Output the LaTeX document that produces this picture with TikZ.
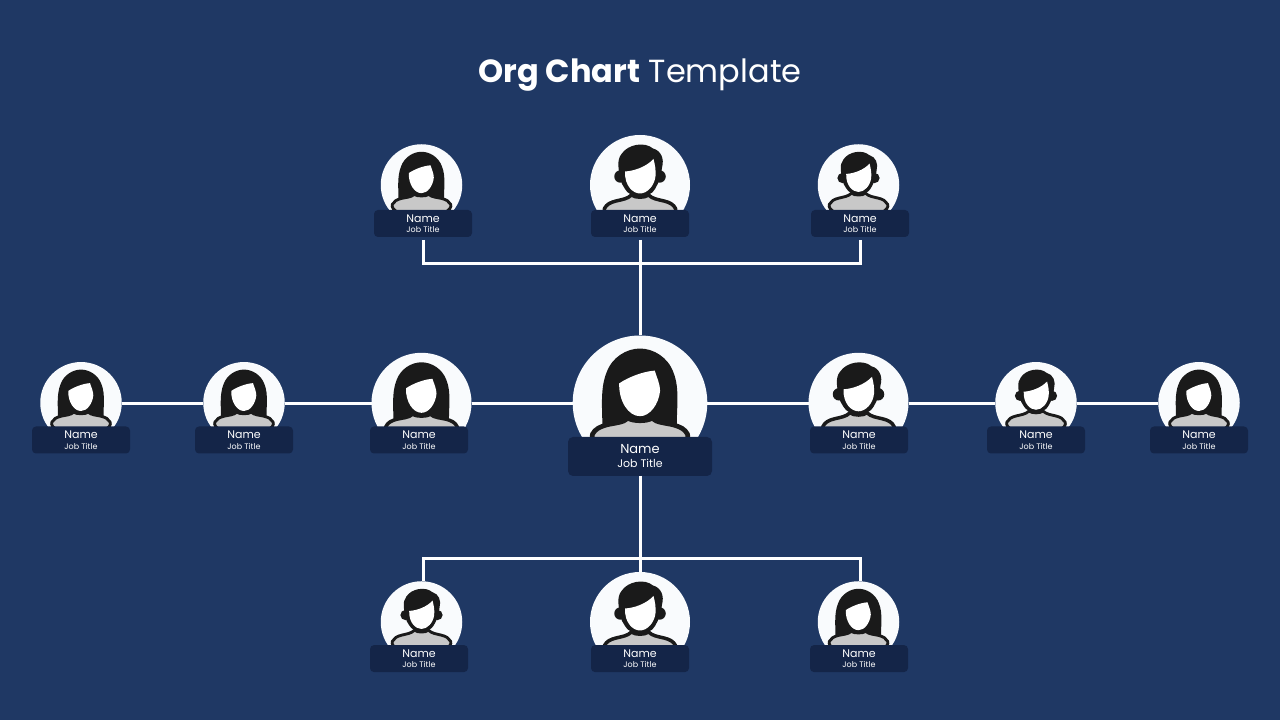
\documentclass[tikz,border=0pt]{standalone}
\usepackage{fontspec}
\setmainfont{Poppins}
\definecolor{bgblue}{HTML}{1F3864}
\definecolor{labelblue}{HTML}{142548}
\definecolor{disc}{HTML}{F9FBFD}
\definecolor{inkdark}{HTML}{1A1A1A}
\definecolor{shirt}{HTML}{C8C8C8}
\tikzset{
  x=1pt,y=1pt,
  bigdisc/.style={circle,fill=disc,inner sep=0,outer sep=0,minimum size=134.6pt},
  middisc/.style={circle,fill=disc,inner sep=0,outer sep=0,minimum size=100pt},
  smalldisc/.style={circle,fill=disc,inner sep=0,outer sep=0,minimum size=81.5pt},
  namebox/.style={fill=labelblue,rounded corners=4pt,inner sep=0,outer sep=0,minimum width=98pt,minimum height=27pt,
    text=white,align=center,font=\fontsize{11}{11}\selectfont},
  bignamebox/.style={fill=labelblue,rounded corners=5pt,inner sep=0,outer sep=0,minimum width=144pt,minimum height=39pt,
    text=white,align=center,font=\fontsize{13}{15}\selectfont},
  link/.style={draw=white,line width=3pt},
  pics/fem/.style={code={
    \begin{scope}[scale=#1]
      \clip (0,0) circle (1);
      \fill[inkdark] (-.56,-.42) .. controls (-.56,-.1) and (-.6,.2) .. (-.5,.45)
        .. controls (-.42,.68) and (-.2,.81) .. (0,.81)
        .. controls (.2,.81) and (.42,.68) .. (.5,.45)
        .. controls (.6,.2) and (.54,-.1) .. (.55,-.42) -- cycle;
      \draw[inkdark,fill=shirt,line width=#1*.07pt,line join=round]
        (-.55,-.68) .. controls (-.68,-.62) and (-.74,-.54) .. (-.71,-.47)
        .. controls (-.67,-.39) and (-.6,-.36) .. (-.5,-.33)
        .. controls (-.38,-.3) and (-.25,-.3) .. (-.18,-.23)
        .. controls (-.1,-.28) and (.1,-.28) .. (.18,-.23)
        .. controls (.25,-.3) and (.38,-.3) .. (.5,-.33)
        .. controls (.6,-.36) and (.67,-.39) .. (.71,-.47)
        .. controls (.74,-.54) and (.68,-.62) .. (.55,-.68) -- cycle;
      \fill[inkdark] (0,-.1) ellipse (.26 and .17);
      \fill[white] (-.31,.29) .. controls (-.18,.38) and (.05,.47) .. (.22,.48)
        .. controls (.25,.38) and (.3,.28) .. (.3,.18)
        .. controls (.28,-.02) and (.15,-.2) .. (0,-.2)
        .. controls (-.17,-.2) and (-.32,.02) .. (-.31,.29) -- cycle;
    \end{scope}}},
  pics/mal/.style={code={
    \begin{scope}[scale=#1]
      \clip (0,0) circle (1);
      \fill[inkdark] (-.39,.17) circle (.125);
      \fill[inkdark] (.39,.17) circle (.125);
      \draw[inkdark,fill=shirt,line width=#1*.07pt,line join=round]
        (-.55,-.68) .. controls (-.68,-.62) and (-.74,-.54) .. (-.71,-.47)
        .. controls (-.67,-.39) and (-.6,-.35) .. (-.48,-.32)
        .. controls (-.36,-.29) and (-.25,-.28) .. (-.17,-.2)
        .. controls (-.1,-.26) and (.1,-.26) .. (.17,-.2)
        .. controls (.25,-.28) and (.36,-.29) .. (.48,-.32)
        .. controls (.6,-.35) and (.67,-.39) .. (.71,-.47)
        .. controls (.74,-.54) and (.68,-.62) .. (.55,-.68) -- cycle;
      \fill[inkdark] (-.36,.02) .. controls (-.44,.3) and (-.47,.5) .. (-.37,.62)
        .. controls (-.24,.82) and (.1,.87) .. (.26,.73)
        .. controls (.42,.69) and (.49,.52) .. (.44,.35)
        .. controls (.43,.2) and (.38,.05) .. (.3,-.08)
        .. controls (.2,-.28) and (-.2,-.28) .. (-.3,-.08) -- cycle;
      \fill[white] (-.3,.27) .. controls (-.12,.28) and (.12,.36) .. (.27,.52)
        .. controls (.3,.4) and (.32,.3) .. (.31,.18)
        .. controls (.29,-.02) and (.14,-.17) .. (0,-.17)
        .. controls (-.14,-.17) and (-.31,-.02) .. (-.3,.27) -- cycle;
    \end{scope}}}
}
\newcommand{\namejob}{Name\\[-.5pt]{\fontsize{8}{8}\selectfont Job Title}}
\begin{document}
\begin{tikzpicture}
\useasboundingbox (0,0) rectangle (1280,720);
\fill[bgblue] (0,0) rectangle (1280,720);

\node[text=white,font=\fontsize{32}{36}\selectfont] (title) at (640,645) {\textbf{Org Chart} Template};

% discs
\node[smalldisc] (d1) at (421.5,535) {}; \pic at (d1.center) {fem=41};
\node[middisc]   (d2) at (640,535) {};   \pic at (d2.center) {mal=50};
\node[smalldisc] (d3) at (858.5,535) {}; \pic at (d3.center) {mal=41};

\node[smalldisc] (d4) at (81,317.2) {};    \pic at (d4.center) {fem=41};
\node[smalldisc] (d5) at (244,317.2) {};   \pic at (d5.center) {fem=41};
\node[middisc]   (d6) at (421.5,317.2) {}; \pic at (d6.center) {fem=50};
\node[bigdisc]   (d7) at (640,317.2) {};   \pic at (d7.center) {fem=67};
\node[middisc]   (d8) at (858.5,317.2) {}; \pic at (d8.center) {mal=50};
\node[smalldisc] (d9) at (1036,317.2) {};  \pic at (d9.center) {mal=41};
\node[smalldisc] (d10) at (1199,317.2) {}; \pic at (d10.center) {fem=41};

\node[smalldisc] (d11) at (421.5,98) {}; \pic at (d11.center) {mal=41};
\node[middisc]   (d12) at (640,98) {};   \pic at (d12.center) {mal=50};
\node[smalldisc] (d13) at (858.5,98) {}; \pic at (d13.center) {fem=41};

% labels
\node[namebox] (l1) at (423,496.5) {\namejob};
\node[namebox] (l2) at (640,496.5) {\namejob};
\node[namebox] (l3) at (860,496.5) {\namejob};
\node[namebox] (l4) at (81,280) {\namejob};
\node[namebox] (l5) at (244,280) {\namejob};
\node[namebox] (l6) at (419,280) {\namejob};
\node[bignamebox] (l7) at (640,263.5) {Name\\[-1pt]{\fontsize{11}{12}\selectfont Job Title}\rule[-2pt]{0pt}{0pt}};
\node[namebox] (l8) at (859,280) {\namejob};
\node[namebox] (l9) at (1036,280) {\namejob};
\node[namebox] (l10) at (1199,280) {\namejob};
\node[namebox] (l11) at (419,61.4) {\namejob};
\node[namebox] (l12) at (640,61.4) {\namejob};
\node[namebox] (l13) at (859,61.4) {\namejob};

% connectors
\coordinate (topbar) at (640,456.5);
\coordinate (botbar) at (640,161.5);
\coordinate (bl) at (423,139);
\coordinate (br) at (860,139);
\draw[link] ([yshift=-3pt]l1.south) |- (topbar) -| ([yshift=-3pt]l3.south);
\draw[link] ([yshift=-3pt]l2.south) -- (d7.north);
\draw[link] ([yshift=-.6pt]d4.east) -- ([yshift=-.6pt]d5.west);
\draw[link] ([yshift=-.6pt]d5.east) -- ([yshift=-.6pt]d6.west);
\draw[link] ([yshift=-.6pt]d6.east) -- ([yshift=-.6pt]d7.west);
\draw[link] ([yshift=-.6pt]d7.east) -- ([yshift=-.6pt]d8.west);
\draw[link] ([yshift=-.6pt]d8.east) -- ([yshift=-.6pt]d9.west);
\draw[link] ([yshift=-.6pt]d9.east) -- ([yshift=-.6pt]d10.west);
\draw[link] (l7.south) -- (d12.north);
\draw[link] (bl) |- (botbar) -| (br);
\end{tikzpicture}
\end{document}
